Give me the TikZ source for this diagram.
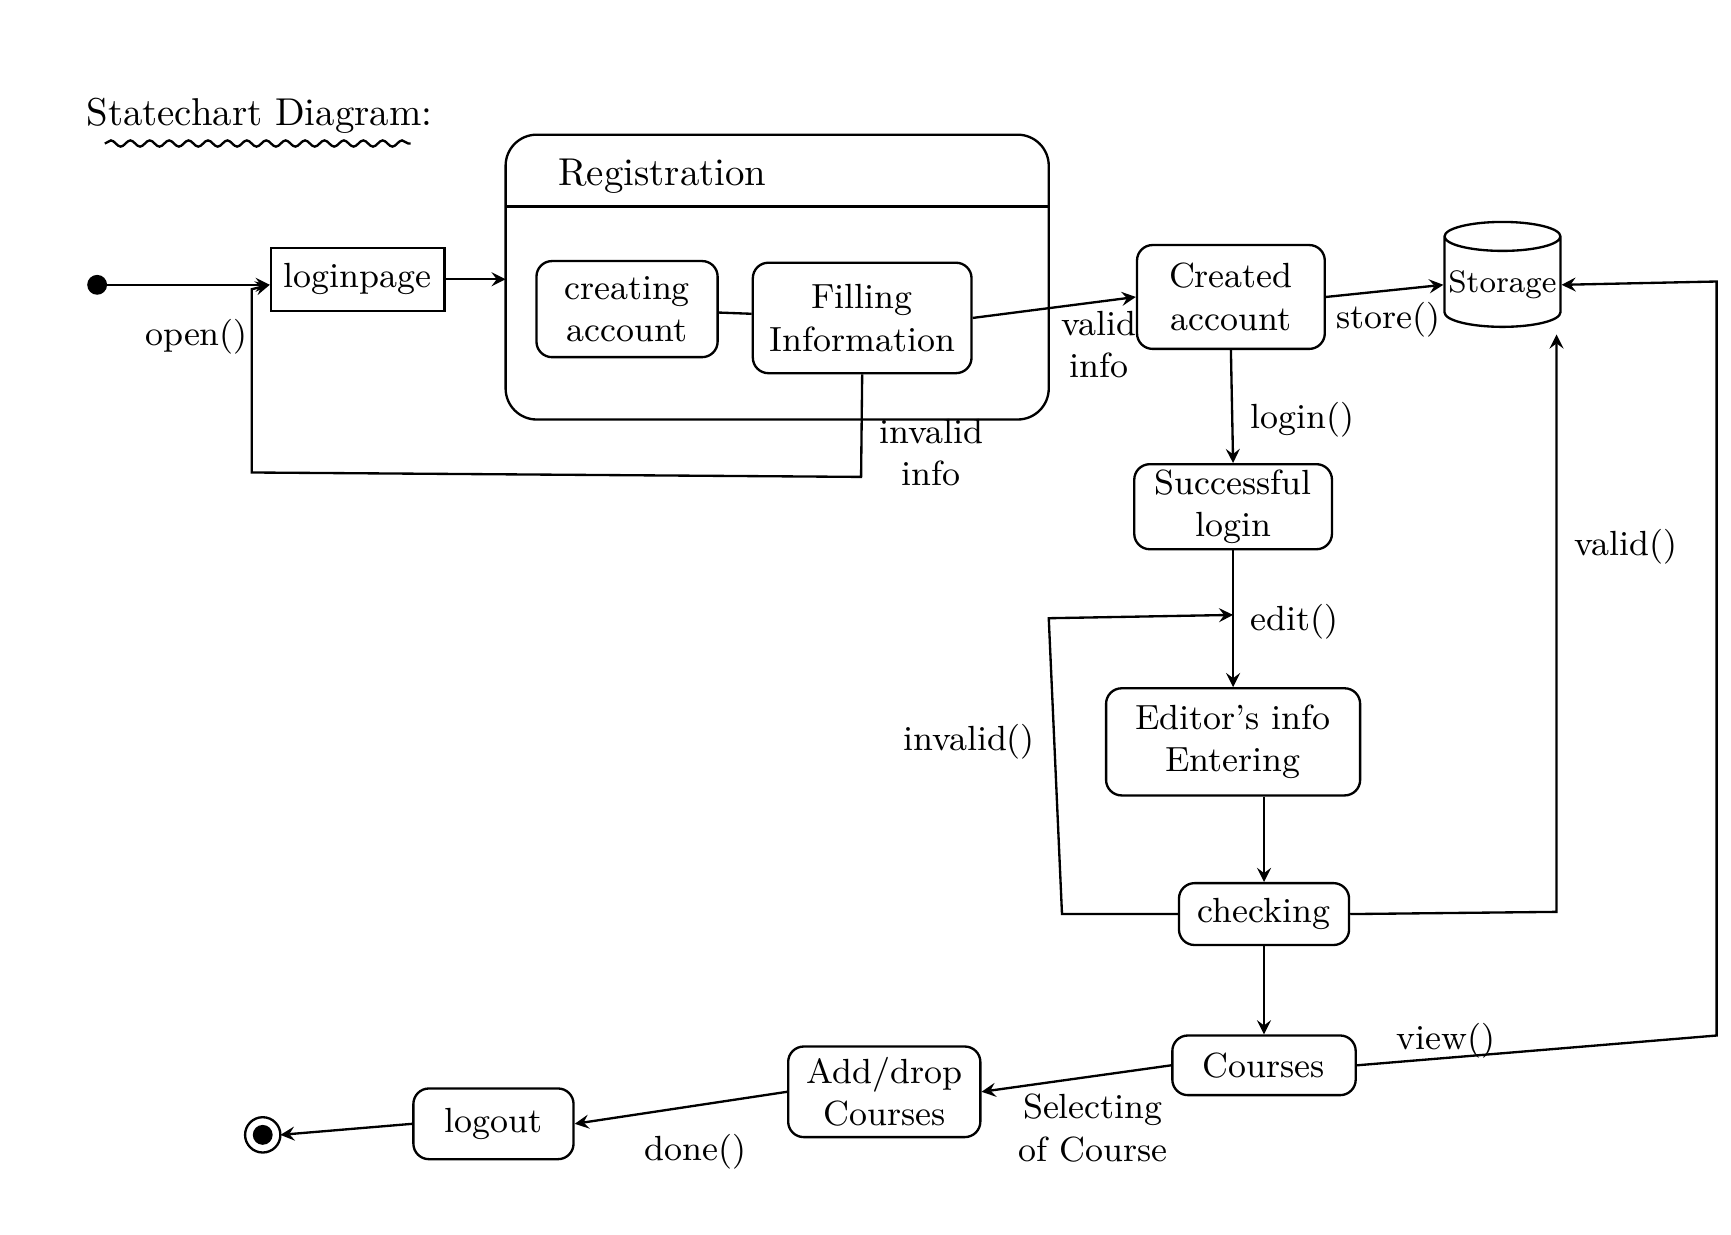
\documentclass[tikz,border=0pt]{standalone}
\usetikzlibrary{shapes.geometric,decorations.pathmorphing}
\begin{document}
\begin{tikzpicture}[x=0.01cm,y=-0.01cm,line width=0.6pt,
  state/.style={draw,rounded corners=4pt,align=center,font=\small,inner sep=1pt},
  tr/.style={->,>=stealth},
  lbl/.style={font=\small,align=center,inner sep=1pt}]
  \useasboundingbox [fill=white] (0,0) rectangle (1568,1118);
  % title
  \node [font=\normalsize] (title) at (235,105) {Statechart Diagram:};
  \draw [decorate,decoration={snake,amplitude=0.8pt,segment length=5pt}] (95,130) -- (372,130);
  % states
  \fill (88,258) circle (9);
  \coordinate (init) at (88,258);
  \node [draw,minimum width=1.44cm,minimum height=0.57cm,font=\small] (login) at (324,253) {loginpage};
  \draw [rounded corners=8pt] (458,122) rectangle (950,380);
  \draw (458,187) -- (950,187);
  \node [lbl,font=\normalsize] (reg) at (600,160) {Registration};
  \coordinate (regin) at (458,253);
  \node [state,minimum width=1.64cm,minimum height=0.87cm] (create) at (568,280) {creating\\account};
  \node [state,minimum width=1.98cm,minimum height=1.0cm] (fill) at (781,288) {Filling\\Information};
  \node [state,minimum width=1.7cm,minimum height=0.94cm] (created) at (1115,269) {Created\\account};
  \node [draw,cylinder,shape border rotate=90,aspect=0.25,minimum width=1.02cm,minimum height=0.95cm,font=\footnotesize,inner sep=1pt] (storage) at (1361,258) {Storage};
  \node [state,minimum width=1.79cm,minimum height=0.77cm] (success) at (1117,459) {Successful\\login};
  \node [state,minimum width=2.3cm,minimum height=0.97cm] (editor) at (1117,672) {Editor's info\\Entering};
  \node [state,minimum width=1.54cm,minimum height=0.56cm] (check) at (1145,828) {checking};
  \node [state,minimum width=1.66cm,minimum height=0.54cm] (courses) at (1145,965) {Courses};
  \node [state,minimum width=1.74cm,minimum height=0.82cm] (adddrop) at (801,989) {Add/drop\\Courses};
  \node [state,minimum width=1.45cm,minimum height=0.64cm] (logout) at (447,1018) {logout};
  \draw (238,1028) circle (16);
  \fill (238,1028) circle (9);
  \coordinate (final) at (254,1028);
  % transitions
  \draw [tr] (init) -- (login.west |- init);
  \node [lbl] (open) at (178,305) {open()};
  \draw [tr] (login.east) -- (regin);
  \draw (create) -- (fill);
  \draw [tr] (fill.east) -- (created.west);
  \node [lbl,anchor=west] (validinfo) at (957,312) {valid\\info};
  \draw [tr] (fill.south) -- (780,432) -- (228,428) -- (228,262) -- (login.west |- init);
  \node [lbl,anchor=west] (invalid) at (792,410) {invalid\\info};
  \draw [tr] (created.east) -- (storage.west);
  \node [lbl] (store) at (1258,290) {store()};
  \draw [tr] (created.south) -- (success.north);
  \node [lbl,anchor=west] (logintr) at (1128,380) {login()};
  \draw [tr] (success.south) -- (editor.north);
  \node [lbl,anchor=west] (edit) at (1128,563) {edit()};
  \coordinate (editjoin) at (1117,557);
  \draw [tr] (check.west) -- (962,828) -- (950,560) -- (editjoin);
  \node [lbl,anchor=east] (inv) at (942,672) {invalid()};
  \draw [tr] (editor.south -| check.north) -- (check.north);
  \draw [tr] (check.east) -- (1410,826) -- (1410,303);
  \node [lbl,anchor=west] (valid) at (1422,495) {valid()};
  \draw [tr] (check.south) -- (courses.north);
  \draw [tr] (courses.east) -- (1555,938) -- (1555,255) -- (storage.east);
  \node [lbl] (view) at (1310,943) {view()};
  \draw [tr] (courses.west) -- (adddrop.east);
  \node [lbl] (sel) at (990,1022) {Selecting\\of Course};
  \draw [tr] (adddrop.west) -- (logout.east);
  \node [lbl] (done) at (630,1043) {done()};
  \draw [tr] (logout.west) -- (final);
\end{tikzpicture}
\end{document}
